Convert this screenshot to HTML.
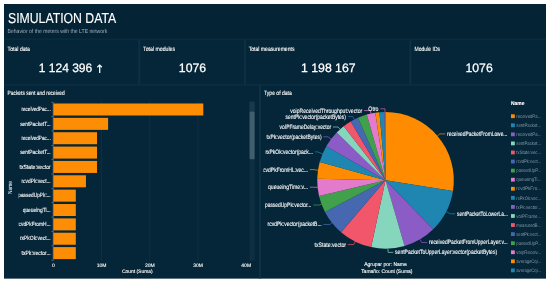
<!DOCTYPE html>
<html><head><meta charset="utf-8"><title>SIMULATION DATA</title>
<style>
html,body{margin:0;padding:0;background:#ffffff;}
body{width:550px;height:283px;overflow:hidden;}
svg{display:block;font-family:"Liberation Sans",sans-serif;text-rendering:geometricPrecision;}
</style></head><body>
<svg width="550" height="283" viewBox="0 0 550 283">
<rect x="4" y="4" width="542" height="274.4" fill="#042335"/>
<rect x="4" y="39" width="542" height="46" fill="#052639"/>
<rect x="138.3" y="39" width="2" height="46" fill="#0c3044"/>
<rect x="243.9" y="39" width="2" height="46" fill="#0c3044"/>
<rect x="409.4" y="39" width="2" height="46" fill="#0c3044"/>
<rect x="4" y="86" width="542" height="192.4" fill="#052639"/>
<rect x="4" y="84.3" width="542" height="1.4" fill="#0c3044"/><rect x="4" y="38.6" width="542" height="1" fill="#0c3044"/>
<rect x="259" y="85" width="2" height="193.4" fill="#0c3044"/>
<text x="8" y="22.5" font-size="14.4" fill="#ffffff" textLength="108.2" lengthAdjust="spacingAndGlyphs" stroke="#ffffff" stroke-width="0.12">SIMULATION DATA</text>
<text x="7.5" y="32.6" font-size="5.9" fill="#9db0bd" textLength="99.8" lengthAdjust="spacingAndGlyphs">Behavior of the meters with the LTE network</text>
<text x="7.6" y="50.5" font-size="6.2" fill="#ffffff" textLength="22.3" lengthAdjust="spacingAndGlyphs" stroke="#ffffff" stroke-width="0.1">Total data</text>
<text x="143.1" y="50.5" font-size="6.2" fill="#ffffff" textLength="32" lengthAdjust="spacingAndGlyphs" stroke="#ffffff" stroke-width="0.1">Total modules</text>
<text x="248.7" y="50.5" font-size="6.2" fill="#ffffff" textLength="45.8" lengthAdjust="spacingAndGlyphs" stroke="#ffffff" stroke-width="0.1">Total measurements</text>
<text x="414.5" y="50.5" font-size="6.2" fill="#ffffff" textLength="25.6" lengthAdjust="spacingAndGlyphs" stroke="#ffffff" stroke-width="0.1">Module IDs</text>
<text x="65.5" y="72.1" font-size="12.2" fill="#ffffff" text-anchor="middle" textLength="53.6" lengthAdjust="spacingAndGlyphs" stroke="#ffffff" stroke-width="0.25">1 124 396</text>
<text x="192.5" y="72.1" font-size="12.2" fill="#ffffff" text-anchor="middle" textLength="27.3" lengthAdjust="spacingAndGlyphs" stroke="#ffffff" stroke-width="0.25">1076</text>
<text x="328.3" y="72.1" font-size="12.2" fill="#ffffff" text-anchor="middle" textLength="54.6" lengthAdjust="spacingAndGlyphs" stroke="#ffffff" stroke-width="0.25">1 198 167</text>
<text x="479.1" y="72.1" font-size="12.2" fill="#ffffff" text-anchor="middle" textLength="27.3" lengthAdjust="spacingAndGlyphs" stroke="#ffffff" stroke-width="0.25">1076</text>
<text x="99.6" y="72.5" font-family="DejaVu Sans" font-size="11.6" fill="#ffffff" text-anchor="middle" stroke="#ffffff" stroke-width="0.2">↑</text>
<clipPath id="bc"><rect x="18.5" y="98" width="40" height="170"/></clipPath>
<text x="7.5" y="95.3" font-size="6.2" fill="#ffffff" textLength="57.2" lengthAdjust="spacingAndGlyphs" stroke="#ffffff" stroke-width="0.1">Packets sent and received</text>
<rect x="101.35" y="101" width="0.5" height="160" fill="#16394b"/>
<rect x="149.55" y="101" width="0.5" height="160" fill="#16394b"/>
<rect x="197.75" y="101" width="0.5" height="160" fill="#16394b"/>
<rect x="52.8" y="102" width="0.7" height="158.6" fill="#6f8796"/>
<rect x="51.3" y="101.90" width="1.6" height="0.6" fill="#6f8796"/>
<rect x="51.3" y="116.26" width="1.6" height="0.6" fill="#6f8796"/>
<rect x="51.3" y="130.62" width="1.6" height="0.6" fill="#6f8796"/>
<rect x="51.3" y="144.98" width="1.6" height="0.6" fill="#6f8796"/>
<rect x="51.3" y="159.34" width="1.6" height="0.6" fill="#6f8796"/>
<rect x="51.3" y="173.70" width="1.6" height="0.6" fill="#6f8796"/>
<rect x="51.3" y="188.06" width="1.6" height="0.6" fill="#6f8796"/>
<rect x="51.3" y="202.42" width="1.6" height="0.6" fill="#6f8796"/>
<rect x="51.3" y="216.78" width="1.6" height="0.6" fill="#6f8796"/>
<rect x="51.3" y="231.14" width="1.6" height="0.6" fill="#6f8796"/>
<rect x="51.3" y="245.50" width="1.6" height="0.6" fill="#6f8796"/>
<rect x="51.3" y="259.86" width="1.6" height="0.6" fill="#6f8796"/>
<rect x="53.4" y="103.50" width="149.90" height="12" fill="#fe8d06"/>
<text x="50.7" y="111.2" font-size="6.0" fill="#ffffff" text-anchor="end" textLength="29.3" lengthAdjust="spacingAndGlyphs" clip-path="url(#bc)" stroke="#ffffff" stroke-width="0.1">receivedPac...</text>
<rect x="53.4" y="117.86" width="54.71" height="12" fill="#fe8d06"/>
<text x="50.7" y="125.56" font-size="6.0" fill="#ffffff" text-anchor="end" textLength="30.5" lengthAdjust="spacingAndGlyphs" clip-path="url(#bc)" stroke="#ffffff" stroke-width="0.1">sentPacketT...</text>
<rect x="53.4" y="132.22" width="43.62" height="12" fill="#fe8d06"/>
<text x="50.7" y="139.92" font-size="6.0" fill="#ffffff" text-anchor="end" textLength="29.3" lengthAdjust="spacingAndGlyphs" clip-path="url(#bc)" stroke="#ffffff" stroke-width="0.1">receivedPac...</text>
<rect x="53.4" y="146.58" width="43.62" height="12" fill="#fe8d06"/>
<text x="50.7" y="154.28" font-size="6.0" fill="#ffffff" text-anchor="end" textLength="30.5" lengthAdjust="spacingAndGlyphs" clip-path="url(#bc)" stroke="#ffffff" stroke-width="0.1">sentPacketT...</text>
<rect x="53.4" y="160.94" width="43.62" height="12" fill="#fe8d06"/>
<text x="50.7" y="168.64" font-size="6.0" fill="#ffffff" text-anchor="end" textLength="31.2" lengthAdjust="spacingAndGlyphs" clip-path="url(#bc)" stroke="#ffffff" stroke-width="0.1">txState:vector</text>
<rect x="53.4" y="175.30" width="32.54" height="12" fill="#fe8d06"/>
<text x="50.7" y="183.0" font-size="6.0" fill="#ffffff" text-anchor="end" textLength="29.2" lengthAdjust="spacingAndGlyphs" clip-path="url(#bc)" stroke="#ffffff" stroke-width="0.1">rcvdPk:vect...</text>
<rect x="53.4" y="189.66" width="22.41" height="12" fill="#fe8d06"/>
<text x="50.7" y="197.36" font-size="6.0" fill="#ffffff" text-anchor="end" textLength="32.4" lengthAdjust="spacingAndGlyphs" clip-path="url(#bc)" stroke="#ffffff" stroke-width="0.1">passedUpPk:...</text>
<rect x="53.4" y="204.02" width="22.41" height="12" fill="#fe8d06"/>
<text x="50.7" y="211.72" font-size="6.0" fill="#ffffff" text-anchor="end" textLength="28.0" lengthAdjust="spacingAndGlyphs" clip-path="url(#bc)" stroke="#ffffff" stroke-width="0.1">queueingTi...</text>
<rect x="53.4" y="218.38" width="22.41" height="12" fill="#fe8d06"/>
<text x="50.7" y="226.08" font-size="6.0" fill="#ffffff" text-anchor="end" textLength="33.8" lengthAdjust="spacingAndGlyphs" clip-path="url(#bc)" stroke="#ffffff" stroke-width="0.1">rcvdPkFromH...</text>
<rect x="53.4" y="232.74" width="22.41" height="12" fill="#fe8d06"/>
<text x="50.7" y="240.44" font-size="6.0" fill="#ffffff" text-anchor="end" textLength="30.8" lengthAdjust="spacingAndGlyphs" clip-path="url(#bc)" stroke="#ffffff" stroke-width="0.1">rxPkOk:vect...</text>
<rect x="53.4" y="247.10" width="22.41" height="12" fill="#fe8d06"/>
<text x="50.7" y="254.8" font-size="6.0" fill="#ffffff" text-anchor="end" textLength="29.2" lengthAdjust="spacingAndGlyphs" clip-path="url(#bc)" stroke="#ffffff" stroke-width="0.1">txPk:vector...</text>
<text x="53.4" y="267.4" font-size="5" fill="#ffffff" text-anchor="middle" stroke="#ffffff" stroke-width="0.1">0</text>
<text x="101.6" y="267.4" font-size="5" fill="#ffffff" text-anchor="middle" stroke="#ffffff" stroke-width="0.1">10M</text>
<text x="149.8" y="267.4" font-size="5" fill="#ffffff" text-anchor="middle" stroke="#ffffff" stroke-width="0.1">20M</text>
<text x="198.0" y="267.4" font-size="5" fill="#ffffff" text-anchor="middle" stroke="#ffffff" stroke-width="0.1">30M</text>
<text x="246.2" y="267.4" font-size="5" fill="#ffffff" text-anchor="middle" stroke="#ffffff" stroke-width="0.1">40M</text>
<text x="137.3" y="273.3" font-size="5" fill="#ffffff" text-anchor="middle" textLength="30.6" lengthAdjust="spacingAndGlyphs" stroke="#ffffff" stroke-width="0.1">Count (Suma)</text>
<text transform="translate(12.2,187.6) rotate(-90)" font-size="5.9" fill="#ffffff" text-anchor="middle" textLength="12.8" lengthAdjust="spacingAndGlyphs">Name</text>
<rect x="249.5" y="101.6" width="5.2" height="159" fill="#0e2f41"/><rect x="249.5" y="101.6" width="5.2" height="9.8" fill="#17394b"/>
<rect x="249.6" y="111.4" width="5" height="47.8" rx="1" fill="#415e6f"/>
<clipPath id="pc"><rect x="263.4" y="86" width="282" height="192"/></clipPath>
<text x="264" y="95.3" font-size="6.2" fill="#ffffff" textLength="27.8" lengthAdjust="spacingAndGlyphs" stroke="#ffffff" stroke-width="0.1">Type of data</text>
<path d="M385.5 180.3L385.50 112.00A68.3 68.3 0 0 1 452.96 190.98Z" fill="#ff8c00"/>
<path d="M385.5 180.3L452.96 190.98A68.3 68.3 0 0 1 433.20 229.18Z" fill="#1f86b2"/>
<path d="M385.5 180.3L433.20 229.18A68.3 68.3 0 0 1 404.56 245.89Z" fill="#8c5cc6"/>
<path d="M385.5 180.3L404.56 245.89A68.3 68.3 0 0 1 371.18 247.08Z" fill="#86d6be"/>
<path d="M385.5 180.3L371.18 247.08A68.3 68.3 0 0 1 341.05 232.16Z" fill="#f2566b"/>
<path d="M385.5 180.3L341.05 232.16A68.3 68.3 0 0 1 324.97 211.94Z" fill="#4668b0"/>
<path d="M385.5 180.3L324.97 211.94A68.3 68.3 0 0 1 319.00 195.90Z" fill="#40a04c"/>
<path d="M385.5 180.3L319.00 195.90A68.3 68.3 0 0 1 317.22 178.75Z" fill="#e47acb"/>
<path d="M385.5 180.3L317.22 178.75A68.3 68.3 0 0 1 319.68 162.05Z" fill="#ff8c00"/>
<path d="M385.5 180.3L319.68 162.05A68.3 68.3 0 0 1 326.29 146.25Z" fill="#1f86b2"/>
<path d="M385.5 180.3L326.29 146.25A68.3 68.3 0 0 1 336.70 132.51Z" fill="#8c5cc6"/>
<path d="M385.5 180.3L336.70 132.51A68.3 68.3 0 0 1 343.73 126.26Z" fill="#86d6be"/>
<path d="M385.5 180.3L343.73 126.26A68.3 68.3 0 0 1 350.73 121.51Z" fill="#f2566b"/>
<path d="M385.5 180.3L350.73 121.51A68.3 68.3 0 0 1 357.94 117.81Z" fill="#4668b0"/>
<path d="M385.5 180.3L357.94 117.81A68.3 68.3 0 0 1 366.79 114.61Z" fill="#40a04c"/>
<path d="M385.5 180.3L366.79 114.61A68.3 68.3 0 0 1 375.29 112.77Z" fill="#e47acb"/>
<path d="M385.5 180.3L375.29 112.77A68.3 68.3 0 0 1 379.43 112.27Z" fill="#ff8c00"/>
<path d="M385.5 180.3L379.43 112.27A68.3 68.3 0 0 1 384.55 112.01Z" fill="#1f86b2"/>
<path d="M385.5 180.3L384.55 112.01A68.3 68.3 0 0 1 385.50 112.00Z" fill="#cf62a6"/>
<polyline points="445.3,133.9 439.8,133.9 437.4,135.9" fill="none" stroke="#ff8c00" stroke-width="0.7"/>
<text x="447.1" y="135.8" font-size="6.3" fill="#ffffff" textLength="60.3" lengthAdjust="spacingAndGlyphs" clip-path="url(#pc)" stroke="#ffffff" stroke-width="0.1">receivedPacketFromLowe...</text>
<polyline points="455.2,213.8 450.3,213.8 446.2,211.7" fill="none" stroke="#1f86b2" stroke-width="0.7"/>
<text x="457" y="215.7" font-size="6.3" fill="#ffffff" textLength="50.8" lengthAdjust="spacingAndGlyphs" clip-path="url(#pc)" stroke="#ffffff" stroke-width="0.1">sentPacketToLowerLa...</text>
<polyline points="427.2,242.5 421.8,242.5 419.9,239.3" fill="none" stroke="#8c5cc6" stroke-width="0.7"/>
<text x="429" y="244.4" font-size="6.3" fill="#ffffff" textLength="78.7" lengthAdjust="spacingAndGlyphs" clip-path="url(#pc)" stroke="#ffffff" stroke-width="0.1">receivedPacketFromUpperLayer:v...</text>
<polyline points="393.3,252.4 388.1,252.4 387.9,248.6" fill="none" stroke="#86d6be" stroke-width="0.7"/>
<text x="395.1" y="254.3" font-size="6.3" fill="#ffffff" textLength="102" lengthAdjust="spacingAndGlyphs" clip-path="url(#pc)" stroke="#ffffff" stroke-width="0.1">sentPacketToUpperLayer:vector(packetBytes)</text>
<polyline points="347.8,244.6 353.7,244.6 355.2,241.5" fill="none" stroke="#f2566b" stroke-width="0.7"/>
<text x="346" y="246.5" font-size="6.3" fill="#ffffff" text-anchor="end" textLength="31.5" lengthAdjust="spacingAndGlyphs" clip-path="url(#pc)" stroke="#ffffff" stroke-width="0.1">txState:vector</text>
<polyline points="323.4,224.5 329.9,224.5 332.0,222.8" fill="none" stroke="#4668b0" stroke-width="0.7"/>
<text x="321.6" y="226.4" font-size="6.3" fill="#ffffff" text-anchor="end" textLength="54" lengthAdjust="spacingAndGlyphs" clip-path="url(#pc)" stroke="#ffffff" stroke-width="0.1">rcvdPk:vector(packetB...</text>
<polyline points="313.3,205.0 319.1,205.0 321.5,204.1" fill="none" stroke="#40a04c" stroke-width="0.7"/>
<text x="311.5" y="206.9" font-size="6.3" fill="#ffffff" text-anchor="end" textLength="46.6" lengthAdjust="spacingAndGlyphs" clip-path="url(#pc)" stroke="#ffffff" stroke-width="0.1">passedUpPk:vector...</text>
<polyline points="309.8,187.2 313.6,187.2 317.6,187.4" fill="none" stroke="#e47acb" stroke-width="0.7"/>
<text x="308" y="189.1" font-size="6.3" fill="#ffffff" text-anchor="end" textLength="40" lengthAdjust="spacingAndGlyphs" clip-path="url(#pc)" stroke="#ffffff" stroke-width="0.1">queueingTime:v...</text>
<polyline points="309.8,169.6 314.0,169.6 317.9,170.3" fill="none" stroke="#ff8c00" stroke-width="0.7"/>
<text x="308" y="171.5" font-size="6.3" fill="#ffffff" text-anchor="end" textLength="46.6" lengthAdjust="spacingAndGlyphs" clip-path="url(#pc)" stroke="#ffffff" stroke-width="0.1">rcvdPkFromHL:vec...</text>
<polyline points="314.8,151.9 317.6,151.9 322.5,153.9" fill="none" stroke="#1f86b2" stroke-width="0.7"/>
<text x="313" y="153.8" font-size="6.3" fill="#ffffff" text-anchor="end" textLength="47.6" lengthAdjust="spacingAndGlyphs" clip-path="url(#pc)" stroke="#ffffff" stroke-width="0.1">rxPkOk:vector(pack...</text>
<polyline points="323.4,136.8 328.1,136.8 331.1,139.1" fill="none" stroke="#8c5cc6" stroke-width="0.7"/>
<text x="321.6" y="138.7" font-size="6.3" fill="#ffffff" text-anchor="end" textLength="55.1" lengthAdjust="spacingAndGlyphs" clip-path="url(#pc)" stroke="#ffffff" stroke-width="0.1">txPk:vector(packetBytes)</text>
<polyline points="332.9,127.0 338.1,127.0 340.1,129.3" fill="none" stroke="#86d6be" stroke-width="0.7"/>
<text x="331.1" y="128.9" font-size="6.3" fill="#ffffff" text-anchor="end" textLength="51.5" lengthAdjust="spacingAndGlyphs" clip-path="url(#pc)" stroke="#ffffff" stroke-width="0.1">voIPFrameDelay:vector</text>
<polyline points="347.8,116.6 352.8,116.6 354.3,119.6" fill="none" stroke="#4668b0" stroke-width="0.7"/>
<text x="346" y="118.5" font-size="6.3" fill="#ffffff" text-anchor="end" textLength="60.4" lengthAdjust="spacingAndGlyphs" clip-path="url(#pc)" stroke="#ffffff" stroke-width="0.1">sentPk:vector(packetBytes)</text>
<polyline points="364.0,110.6 370.4,110.6 371.0,113.6" fill="none" stroke="#e47acb" stroke-width="0.7"/>
<text x="362.2" y="112.5" font-size="6.3" fill="#ffffff" text-anchor="end" textLength="72" lengthAdjust="spacingAndGlyphs" clip-path="url(#pc)" stroke="#ffffff" stroke-width="0.1">voipReceivedThroughput:vector</text>
<polyline points="380.3,108.8 385.0,108.8 385.0,112.0" fill="none" stroke="#cf62a6" stroke-width="0.7"/>
<text x="378.5" y="110.7" font-size="6.3" fill="#ffffff" text-anchor="end" textLength="10.2" lengthAdjust="spacingAndGlyphs" clip-path="url(#pc)" stroke="#ffffff" stroke-width="0.1">Otro</text>
<text x="385.5" y="266" font-size="5.3" fill="#ffffff" text-anchor="middle" textLength="42.5" lengthAdjust="spacingAndGlyphs" stroke="#ffffff" stroke-width="0.1">Agrupar por: Name</text>
<text x="386.8" y="273" font-size="5.3" fill="#ffffff" text-anchor="middle" textLength="51.3" lengthAdjust="spacingAndGlyphs" stroke="#ffffff" stroke-width="0.1">Tamaño: Count (Suma)</text>
<text x="511" y="105.3" font-size="5.4" fill="#ffffff" font-weight="bold" textLength="13.4" lengthAdjust="spacingAndGlyphs" stroke="#ffffff" stroke-width="0.1">Name</text>
<rect x="511" y="114.30" width="3.8" height="3.8" fill="#ff8c00"/>
<text x="516.3" y="117.9" font-size="5.0" fill="#8197a4" textLength="24.8" lengthAdjust="spacingAndGlyphs">receivedPa...</text>
<rect x="511" y="123.37" width="3.8" height="3.8" fill="#1f86b2"/>
<text x="516.3" y="126.97" font-size="5.0" fill="#8197a4" textLength="24.8" lengthAdjust="spacingAndGlyphs">sentPacket...</text>
<rect x="511" y="132.44" width="3.8" height="3.8" fill="#8c5cc6"/>
<text x="516.3" y="136.04" font-size="5.0" fill="#8197a4" textLength="24.8" lengthAdjust="spacingAndGlyphs">receivedPa...</text>
<rect x="511" y="141.51" width="3.8" height="3.8" fill="#86d6be"/>
<text x="516.3" y="145.11" font-size="5.0" fill="#8197a4" textLength="24.8" lengthAdjust="spacingAndGlyphs">sentPacket...</text>
<rect x="511" y="150.58" width="3.8" height="3.8" fill="#f2566b"/>
<text x="516.3" y="154.18" font-size="5.0" fill="#8197a4" textLength="24.8" lengthAdjust="spacingAndGlyphs">txState:vec...</text>
<rect x="511" y="159.65" width="3.8" height="3.8" fill="#4668b0"/>
<text x="516.3" y="163.25" font-size="5.0" fill="#8197a4" textLength="24.8" lengthAdjust="spacingAndGlyphs">rcvdPk:vect...</text>
<rect x="511" y="168.72" width="3.8" height="3.8" fill="#40a04c"/>
<text x="516.3" y="172.32" font-size="5.0" fill="#8197a4" textLength="24.8" lengthAdjust="spacingAndGlyphs">passedUpP...</text>
<rect x="511" y="177.79" width="3.8" height="3.8" fill="#e47acb"/>
<text x="516.3" y="181.39" font-size="5.0" fill="#8197a4" textLength="24.8" lengthAdjust="spacingAndGlyphs">queueingTi...</text>
<rect x="511" y="186.86" width="3.8" height="3.8" fill="#ff8c00"/>
<text x="516.3" y="190.46" font-size="5.0" fill="#8197a4" textLength="24.8" lengthAdjust="spacingAndGlyphs">rcvdPkFro...</text>
<rect x="511" y="195.93" width="3.8" height="3.8" fill="#1f86b2"/>
<text x="516.3" y="199.53" font-size="5.0" fill="#8197a4" textLength="24.8" lengthAdjust="spacingAndGlyphs">rxPkOk:vec...</text>
<rect x="511" y="205.00" width="3.8" height="3.8" fill="#8c5cc6"/>
<text x="516.3" y="208.6" font-size="5.0" fill="#8197a4" textLength="24.8" lengthAdjust="spacingAndGlyphs">txPk:vector...</text>
<rect x="511" y="214.07" width="3.8" height="3.8" fill="#86d6be"/>
<text x="516.3" y="217.67" font-size="5.0" fill="#8197a4" textLength="24.8" lengthAdjust="spacingAndGlyphs">voIPFrame...</text>
<rect x="511" y="223.14" width="3.8" height="3.8" fill="#f2566b"/>
<text x="516.3" y="226.74" font-size="5.0" fill="#8197a4" textLength="24.8" lengthAdjust="spacingAndGlyphs">measuredB...</text>
<rect x="511" y="232.21" width="3.8" height="3.8" fill="#4668b0"/>
<text x="516.3" y="235.81" font-size="5.0" fill="#8197a4" textLength="24.8" lengthAdjust="spacingAndGlyphs">sentPk:vect...</text>
<rect x="511" y="241.28" width="3.8" height="3.8" fill="#40a04c"/>
<text x="516.3" y="244.88" font-size="5.0" fill="#8197a4" textLength="24.8" lengthAdjust="spacingAndGlyphs">passedUpP...</text>
<rect x="511" y="250.35" width="3.8" height="3.8" fill="#e47acb"/>
<text x="516.3" y="253.95" font-size="5.0" fill="#8197a4" textLength="24.8" lengthAdjust="spacingAndGlyphs">voipReceiv...</text>
<rect x="511" y="259.42" width="3.8" height="3.8" fill="#ff8c00"/>
<text x="516.3" y="263.02" font-size="5.0" fill="#8197a4" textLength="24.8" lengthAdjust="spacingAndGlyphs">averageCqi...</text>
<rect x="511" y="268.49" width="3.8" height="3.8" fill="#1f86b2"/>
<text x="516.3" y="272.09" font-size="5.0" fill="#8197a4" textLength="24.8" lengthAdjust="spacingAndGlyphs">averageCqi...</text>
</svg>
</body></html>
